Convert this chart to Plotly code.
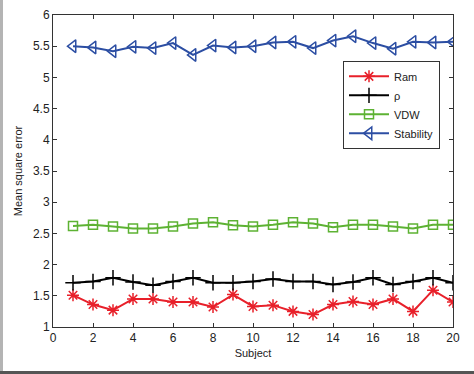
import plotly.graph_objects as go

subjects = list(range(1, 21))
ram = [1.51, 1.36, 1.27, 1.45, 1.45, 1.40, 1.40, 1.32, 1.52, 1.33,
       1.35, 1.25, 1.20, 1.36, 1.41, 1.36, 1.45, 1.25, 1.59, 1.40]
rho = [1.71, 1.73, 1.79, 1.72, 1.67, 1.73, 1.79, 1.71, 1.71, 1.73,
       1.77, 1.73, 1.73, 1.68, 1.72, 1.79, 1.68, 1.73, 1.79, 1.71]
vdw = [2.62, 2.64, 2.61, 2.58, 2.58, 2.61, 2.66, 2.68, 2.63, 2.61,
       2.64, 2.68, 2.66, 2.60, 2.64, 2.64, 2.61, 2.58, 2.64, 2.64]
stability = [5.50, 5.48, 5.42, 5.49, 5.47, 5.55, 5.36, 5.51, 5.48, 5.50,
             5.56, 5.57, 5.47, 5.59, 5.66, 5.55, 5.46, 5.57, 5.56, 5.57]

series = [
    ("Ram", ram, "#e8202a", "asterisk-open", 10),
    ("\u03c1", rho, "#000000", "cross-thin-open", 11),
    ("VDW", vdw, "#5db233", "square-open", 9),
    ("Stability", stability, "#2c4ea3", "triangle-left-open", 11),
]

fig = go.Figure()
for name, vals, color, sym, size in series:
    fig.add_trace(go.Scatter(
        x=subjects, y=vals, name=name, mode="lines+markers",
        line=dict(color=color, width=2),
        marker=dict(symbol=sym, size=size, color=color,
                    line=dict(color=color, width=1.5)),
    ))

font_family = "Liberation Sans, Arial, sans-serif"
fig.update_layout(
    width=474, height=374,
    margin=dict(l=53, r=21, t=15, b=47),
    paper_bgcolor="white", plot_bgcolor="white",
    font=dict(family=font_family, size=12, color="#222"),
    showlegend=True,
    legend=dict(
        x=0.725, y=0.853, xanchor="left", yanchor="top",
        bgcolor="white", bordercolor="#333", borderwidth=1,
        font=dict(size=11, family=font_family, color="#222"),
        tracegroupgap=0, itemwidth=40,
    ),
    xaxis=dict(
        range=[0, 20], tickvals=list(range(0, 21, 2)),
        ticks="inside", ticklen=4, tickcolor="#333",
        showline=True, linecolor="#333", linewidth=1, mirror="ticks",
        showgrid=False, zeroline=False, automargin=False,
        title=dict(text="Subject", font=dict(size=11), standoff=4),
        tickfont=dict(size=12),
    ),
    yaxis=dict(
        range=[1, 6], tickvals=[1, 1.5, 2, 2.5, 3, 3.5, 4, 4.5, 5, 5.5, 6],
        ticktext=["1", "1.5", "2", "2.5", "3", "3.5", "4", "4.5", "5", "5.5", "6"],
        ticks="inside", ticklen=4, tickcolor="#333",
        showline=True, linecolor="#333", linewidth=1, mirror="ticks",
        showgrid=False, zeroline=False, automargin=False,
        title=dict(text="Mean square error", font=dict(size=11), standoff=8),
        tickfont=dict(size=12),
    ),
    shapes=[
        dict(type="rect", xref="paper", yref="paper",
             x0=-0.1325, x1=-0.125, y0=-0.1506, y1=1.05,
             fillcolor="#b4b4b4", line=dict(width=0), layer="below"),
        dict(type="rect", xref="paper", yref="paper",
             x0=-0.1325, x1=1.0525, y0=-0.1506, y1=-0.141,
             fillcolor="#555555", line=dict(width=0), layer="below"),
    ],
)

fig.write_html("out.html", config={"displayModeBar": False},
               post_script="document.body.style.margin='0';")
